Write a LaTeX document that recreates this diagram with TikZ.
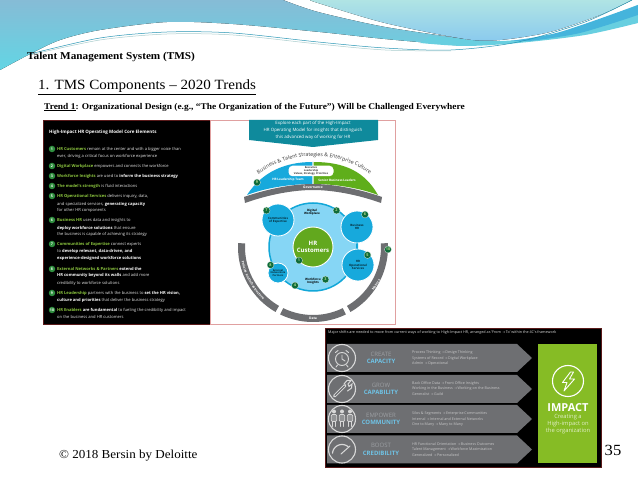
\documentclass[tikz,border=0pt]{standalone}
\usepackage{fontspec}
\usetikzlibrary{decorations.text,shapes.geometric}
\setmainfont[FakeStretch=1.07]{Liberation Serif}
\newfontfamily\os{Open Sans}
\newfontfamily\arrowf{DejaVu Sans}
\newcommand{\fs}[1]{\fontsize{#1}{#1}\selectfont}
\definecolor{grnb}{HTML}{8CC63F}
\definecolor{txtw}{HTML}{E6E6E6}
\definecolor{badgeg}{HTML}{0E6B3A}
\definecolor{numg}{HTML}{2F8F3F}
\definecolor{bandg}{HTML}{6D6E71}
\definecolor{rowg}{HTML}{6E6F72}
\definecolor{ringb}{HTML}{12A7D8}
\definecolor{innerb}{HTML}{86D6F5}
\definecolor{satb}{HTML}{17A9DC}
\definecolor{corg}{HTML}{62A81E}
\definecolor{domeg}{HTML}{5FAE1B}
\definecolor{teal}{HTML}{0F8A9C}
\definecolor{impg}{HTML}{86BC25}
\definecolor{lblb}{HTML}{6FC3E6}
\definecolor{lblg}{HTML}{9C9FA3}
\definecolor{iconw}{HTML}{D8D8D8}
\definecolor{pinkb}{HTML}{E0A0A0}
\definecolor{darkr}{HTML}{5A1A1A}
\definecolor{swA}{RGB}{134,188,214}
\definecolor{swB}{RGB}{98,213,228}
\definecolor{swC}{RGB}{104,207,224}
\definecolor{swD}{RGB}{69,180,220}
\definecolor{swE}{RGB}{176,228,228}
\definecolor{swF}{RGB}{138,202,238}
\definecolor{swG}{RGB}{40,150,180}
\definecolor{swH}{RGB}{170,205,205}
\newcommand{\grn}[1]{\textcolor{grnb}{\bfseries #1}}
\newcommand{\wbf}[1]{\textcolor{white}{\bfseries #1}}
\newcommand{\too}{{\arrowf\fs{3.2}\,→\,}}
\newcount\tcnt
% left panel line
\newcommand{\tkline}[2]{\global\advance\tcnt by 1
  \node[lpline] (t\the\tcnt) at (57,#1) {#2};}
\newcommand{\numb}[2]{\global\advance\tcnt by 1
  \node[lpnum] (t\the\tcnt) at (52,#1) {#2};}
\newcommand{\bdg}[3]{\global\advance\tcnt by 1
  \node[badge] (t\the\tcnt) at (#1,#2) {#3};}
\newcommand{\shiftl}[2]{\global\advance\tcnt by 1
  \node[shiftline] (t\the\tcnt) at (412,#1) {#2};}
\newcommand{\rowshape}[1]{\fill[rowg] (327,#1-14) -- (517,#1-14) -- (532,#1) -- (517,#1+14) -- (327,#1+14) -- cycle;
  \draw[iconw,line width=1.1pt] (342,#1) circle[radius=13.5pt];}
\newcommand{\rowlabel}[3]{\global\advance\tcnt by 1
  \node[rowlab,lblg] (t\the\tcnt) at (381,#1-4) {#2};
  \global\advance\tcnt by 1
  \node[rowlab,lblb] (t\the\tcnt) at (381,#1+3.5) {\bfseries #3};}
\tikzset{
  lpline/.style={anchor=west,inner sep=0pt,font=\os\fs{4.1},text=txtw},
  lpnum/.style={circle,fill=numg,inner sep=0pt,minimum size=6.5pt,font=\os\bfseries\fs{3.6},text=white},
  badge/.style={circle,fill=badgeg,draw=white,line width=.2pt,inner sep=0pt,minimum size=7pt,font=\os\bfseries\fs{3.8},text=grnb!60!white},
  shiftline/.style={anchor=west,inner sep=0pt,font=\os\fs{3.65},text=iconw!85!rowg},
  rowlab/.style={inner sep=0pt,font=\os\fs{6}},
  sat/.style={circle,fill=satb,draw=white,line width=.8pt,inner sep=0pt,align=center,font=\os\bfseries\fs{3},text=black!75!satb},
  slide/.style={inner sep=0pt,anchor=west,text=black},
}
\begin{document}
\begin{tikzpicture}[x=1pt,y=-1pt]
\useasboundingbox (0,0) rectangle (638,478);
\fill[white] (0,0) rectangle (638,478);
% --- header swoosh ---
\fill[top color=swA,bottom color=swB]
  (0,0) -- plot[smooth] coordinates {(283,0)(318,12)(385,27)(465,39)}
  -- plot[smooth] coordinates {(465,46)(385,39)(320,32)(233,24)(167,22)(100,30)(60,40)(30,54)(0,70)} -- cycle;
\fill[swC]
  plot[smooth] coordinates {(430,36)(500,41)(560,33)(638,5)} -- (638,23)
  -- plot[smooth] coordinates {(638,23)(585,35)(518,43)(465,46)(420,43)} -- cycle;
\fill[swD]
  plot[smooth] coordinates {(510,41)(560,32)(638,5)} -- (638,15)
  -- plot[smooth] coordinates {(638,15)(580,33)(530,41)} -- cycle;
\fill[top color=swE,bottom color=swF]
  plot[smooth] coordinates {(310,0)(318,3)(385,23)(465,39)(500,40)(550,32)(600,15)(632,0)} -- cycle;
\draw[swG,line width=.5pt]
  plot[smooth] coordinates {(30,54)(100,38)(167,32)(233,33)(318,42)(385,48)(451,50)(518,42)(585,22)(632,0)};
\draw[swH,line width=.5pt]
  plot[smooth] coordinates {(30,55)(100,40)(167,34)(233,35)(318,44)(385,50)(451,51)};
% --- slide titles ---
\node[slide,font=\bfseries\fs{10.5}] (tms) at (27,57) {Talent Management System (TMS)};
\node[slide,font=\fs{14.1}] (comp) at (38,87) {\underline{1. TMS Components – 2020 Trends}};
\node[slide,font=\bfseries\fs{8.8}] (trend) at (44,107) {\underline{Trend 1}: Organizational Design (e.g., “The Organization of the Future”) Will be Challenged Everywhere};
% --- left black panel ---
\fill[black] (43,120) rectangle (210,324);
\draw[darkr,line width=.6pt] (43,120) rectangle (210,324);
\draw[pinkb,line width=.7pt] (210,120) rectangle (395,324);
\node[lpline,font=\os\bfseries\fs{4.5},text=white] (lptitle) at (49,132) {High-Impact HR Operating Model Core Elements};
\numb{149}{1}\tkline{149}{\grn{HR Customers} remain at the center and with a bigger voice than}
\tkline{156}{ever, driving a critical focus on workforce experience}
\numb{166}{2}\tkline{166}{\grn{Digital Workplace} empowers and connects the workforce}
\numb{176}{3}\tkline{176}{\grn{Workforce Insights} are used to \wbf{inform the business strategy}}
\numb{186}{4}\tkline{186}{\grn{The model's strength} is fluid interactions}
\numb{196}{5}\tkline{196}{\grn{HR Operational Services} delivers inquiry, data,}
\tkline{204}{and specialized services, \wbf{generating capacity}}
\tkline{210}{for other HR components}
\numb{220}{6}\tkline{220}{\grn{Business HR} uses data and insights to}
\tkline{228}{\wbf{deploy workforce solutions} that ensure}
\tkline{234}{the business is capable of achieving its strategy}
\numb{244}{7}\tkline{244}{\grn{Communities of Expertise} connect experts}
\tkline{251}{to \wbf{develop relevant, data-driven, and}}
\tkline{258}{\wbf{experience-designed workforce solutions}}
\numb{269}{8}\tkline{269}{\grn{External Networks \& Partners} \wbf{extend the}}
\tkline{275.5}{\wbf{HR community beyond its walls} and add more}
\tkline{283}{credibility to workforce solutions}
\numb{293}{9}\tkline{293}{\grn{HR Leadership} partners with the business to \wbf{set the HR vision,}}
\tkline{300}{\wbf{culture and priorities} that deliver the business strategy}
\numb{310}{10}\tkline{310}{\grn{HR Enablers} \wbf{are fundamental} to fueling the credibility and impact}
\tkline{317}{on the business and HR customers}
% --- right panel: banner ---
\fill[teal] (249,120) -- (378,120) -- (378,140) -- (313,147) -- (249,140) -- cycle;
\node[inner sep=0pt,align=center,font=\os\fs{4.4},text=white] (banner) at (313,130.5)
  {Explore each part of the High-Impact\\[1.5pt]HR Operating Model for insights that distinguish\\[1.5pt]this advanced way of working for HR};
% dome
\path[decorate,decoration={text along path,text align=center,
   text={|\os\fs{5.2}\color{black!80}|Business {\&} Talent Strategies {\&} Enterprise Culture}}]
   plot[domain=132:48,samples=60] ({314+95*cos(\x)},{251-95*sin(\x)});
\fill[satb] (247,195) .. controls (262,172) and (285,162) .. (312.3,162) -- (312.3,184) .. controls (290,184) and (265,188) .. (247,195) -- cycle;
\fill[domeg] (313.7,162) .. controls (345,162) and (365,172) .. (378,195) .. controls (360,188) and (335,184) .. (313.7,184) -- cycle;
\node[fill=white,rounded corners=4pt,minimum width=45pt,minimum height=10.5pt,inner sep=0pt,align=center,font=\os\bfseries\fs{2.6},text=black!80] (exec) at (311,171)
  {Executive\\[.3pt]Leadership\\[.3pt]Values, Strategy, Priorities};
\node[inner sep=0pt,font=\os\bfseries\fs{3.1},text=white] (hrlt) at (288,180) {HR Leadership Team};
\node[inner sep=0pt,font=\os\bfseries\fs{3.1},text=white] (sbl) at (337,180) {Senior Business Leaders};
\fill[bandg] (244,197) .. controls (270,188) and (295,184) .. (313,184) .. controls (331,184) and (356,188) .. (382,197)
  -- (381,203) .. controls (356,194) and (331,190) .. (313,190) .. controls (295,190) and (270,194) .. (245,203) -- cycle;
\node[inner sep=0pt,font=\os\bfseries\fs{3.3},text=white] (gov) at (313,187) {Governance};
% main circles
\node[circle,fill=innerb,draw=ringb,line width=1.5pt,minimum size=88pt,inner sep=0pt] (big) at (313,247) {};
\node[inner sep=0pt,align=center,font=\os\bfseries\fs{3},text=black] (dw) at (312,212) {Digital\\[.3pt]Workplace};
\node[inner sep=0pt,align=center,font=\os\bfseries\fs{3},text=black] (wi) at (313,281.5) {Workforce\\[.3pt]Insights};
\node[circle,fill=corg,draw=white,line width=.9pt,minimum size=40pt,inner sep=0pt,align=center,font=\os\bfseries\fs{6},text=white] (core) at (313,247) {HR\\[1pt]Customers};
\node[sat,minimum size=32pt] (coe) at (278,220) {Communities\\[.3pt]of Expertise};
\node[sat,minimum size=32pt] (bhr) at (357,227) {Business\\[.3pt]HR};
\node[sat,minimum size=32pt] (ops) at (358,265) {HR\\[.3pt]Operational\\[.3pt]Services};
\node[sat,minimum size=20pt,font=\os\bfseries\fs{2.5}] (ext) at (278,273) {External\\[.2pt]Networks \&\\[.2pt]Partners};
\draw[satb,line width=1.2pt] (bhr) -- (ops);
% outer arcs
\fill[bandg] plot[domain=177:240,samples=30] ({313+75*cos(\x)},{247-75*sin(\x)}) -- plot[domain=240:177,samples=30] ({313+68*cos(\x)},{247-68*sin(\x)}) -- cycle;
\fill[bandg] plot[domain=244:296,samples=30] ({313+75*cos(\x)},{247-75*sin(\x)}) -- plot[domain=296:244,samples=30] ({313+68*cos(\x)},{247-68*sin(\x)}) -- cycle;
\fill[bandg] plot[domain=300:363,samples=30] ({313+75*cos(\x)},{247-75*sin(\x)}) -- plot[domain=363:300,samples=30] ({313+68*cos(\x)},{247-68*sin(\x)}) -- cycle;
\path[decorate,decoration={text along path,text align=center,raise=-1.2pt,
   text={|\os\bfseries\fs{3.3}\color{white}|Policies and Infrastructure}}]
   plot[domain=180:238,samples=40] ({313+71.5*cos(\x)},{247-71.5*sin(\x)});
\node[inner sep=0pt,font=\os\bfseries\fs{3.3},text=white] (data) at (313,318.5) {Data};
\node[inner sep=0pt,font=\os\bfseries\fs{3.3},text=white,rotate=57] (metrics) at (376,285) {Metrics};
% badges
\bdg{257}{182.5}{9}
\bdg{266.5}{210.5}{7}
\bdg{336.5}{210.5}{2}
\bdg{365}{214.5}{6}
\bdg{367.5}{255}{5}
\bdg{325.5}{279.5}{3}
\bdg{295}{285.5}{4}
\bdg{299}{260.5}{1}
\bdg{270.5}{265}{8}
\bdg{388}{249.5}{10}
% --- bottom-right panel ---
\fill[black] (325,328) rectangle (601,467);
\draw[darkr,line width=.6pt] (325,328) rectangle (601,467);
\node[inner sep=0pt,anchor=west,font=\os\fs{3.7},text=iconw] (hdr) at (328,333)
  {Major shifts are needed to move from current ways of working to High-Impact HR, arranged as ‘From \too To’ within the 4C's framework};
\rowshape{358}\rowshape{389}\rowshape{419}\rowshape{449.5}
\rowlabel{358}{CREATE}{CAPACITY}{}
\rowlabel{389}{GROW}{CAPABILITY}{}
\rowlabel{419}{EMPOWER}{COMMUNITY}{}
\rowlabel{449.5}{BOOST}{CREDIBILITY}{}
\shiftl{353}{Process Thinking \too Design Thinking}
\shiftl{358.5}{Systems of Record \too Digital Workplace}
\shiftl{364}{Admin \too Operational}
\shiftl{383.5}{Back Office Data \too Front Office Insights}
\shiftl{389}{Working in the Business \too Working on the Business}
\shiftl{394.5}{Generalist \too Guild}
\shiftl{413.5}{Silos \& Segments \too Enterprise Communities}
\shiftl{419}{Internal \too Internal and External Networks}
\shiftl{424.5}{One to Many \too Many to Many}
\shiftl{444}{HR Functional Orientation \too Business Outcomes}
\shiftl{449.5}{Talent Management \too Workforce Maximization}
\shiftl{455}{Generalized \too Personalized}
% icons
\begin{scope}[iconw,line width=.9pt,line cap=round]
 % clock
 \draw (342,359) circle[radius=6.5pt];
 \draw (342,355) -- (342,359) -- (345,361);
 \draw (335.5,352.5) -- (338,350.5); \draw (348.5,352.5) -- (346,350.5);
 \draw (337.5,365) -- (336,367); \draw (346.5,365) -- (348,367);
 % wrench
 \draw[line width=3pt] (334.5,396) -- (345,385.5);
 \draw[rowg,line width=1.4pt] (335,395.5) -- (344.5,386);
 \draw[line width=1pt] (344,384) -- (347,380.5) -- (351,380.5) -- (348,384) -- (349,386.5) -- (352,384) -- (351.5,388) -- (347.5,391);
 % people
 \foreach \px in {334,342,350}{
   \fill (\px,411.5) circle[radius=2pt];
   \draw[line width=.7pt,fill=iconw,fill opacity=.35,rounded corners=1pt] (\px-2.7,414.5) rectangle (\px+2.7,421.5);
   \draw[line width=.7pt] (\px-1.2,421.5) -- (\px-1.2,426.5) (\px+1.2,421.5) -- (\px+1.2,426.5);
 }
 % gauge
 \draw[line width=1.2pt] plot[domain=175:50,samples=20] ({342+9.5*cos(\x)},{454-9.5*sin(\x)});
 \draw[line width=1pt] (341,454) -- (350,446);
\end{scope}
% impact panel
\fill[impg] (538,344) rectangle (597,463);
\draw[white,line width=1.1pt] (568,381) circle[radius=15.5pt];
\draw[white,line width=.9pt,line join=round] (570.5,372) -- (562.5,382.5) -- (567,382.5) -- (564,391) -- (574.5,379) -- (569.5,379) -- (573.5,372) -- cycle;
\node[inner sep=0pt,font=\os\bfseries\fs{11},text=white] (impact) at (568,407.5) {IMPACT};
\node[inner sep=0pt,align=center,font=\os\fs{5.8},text=white!75!impg] (imptxt) at (568,424)
  {Creating a\\[1.2pt]High-impact on\\[1.2pt]the organization};
% footer
\node[slide,font=\fs{12.2}] (copy) at (59,456) {© 2018 Bersin by Deloitte};
\node[inner sep=0pt,font=\fs{15.5}] (pg) at (613,450) {35};
\end{tikzpicture}
\end{document}
